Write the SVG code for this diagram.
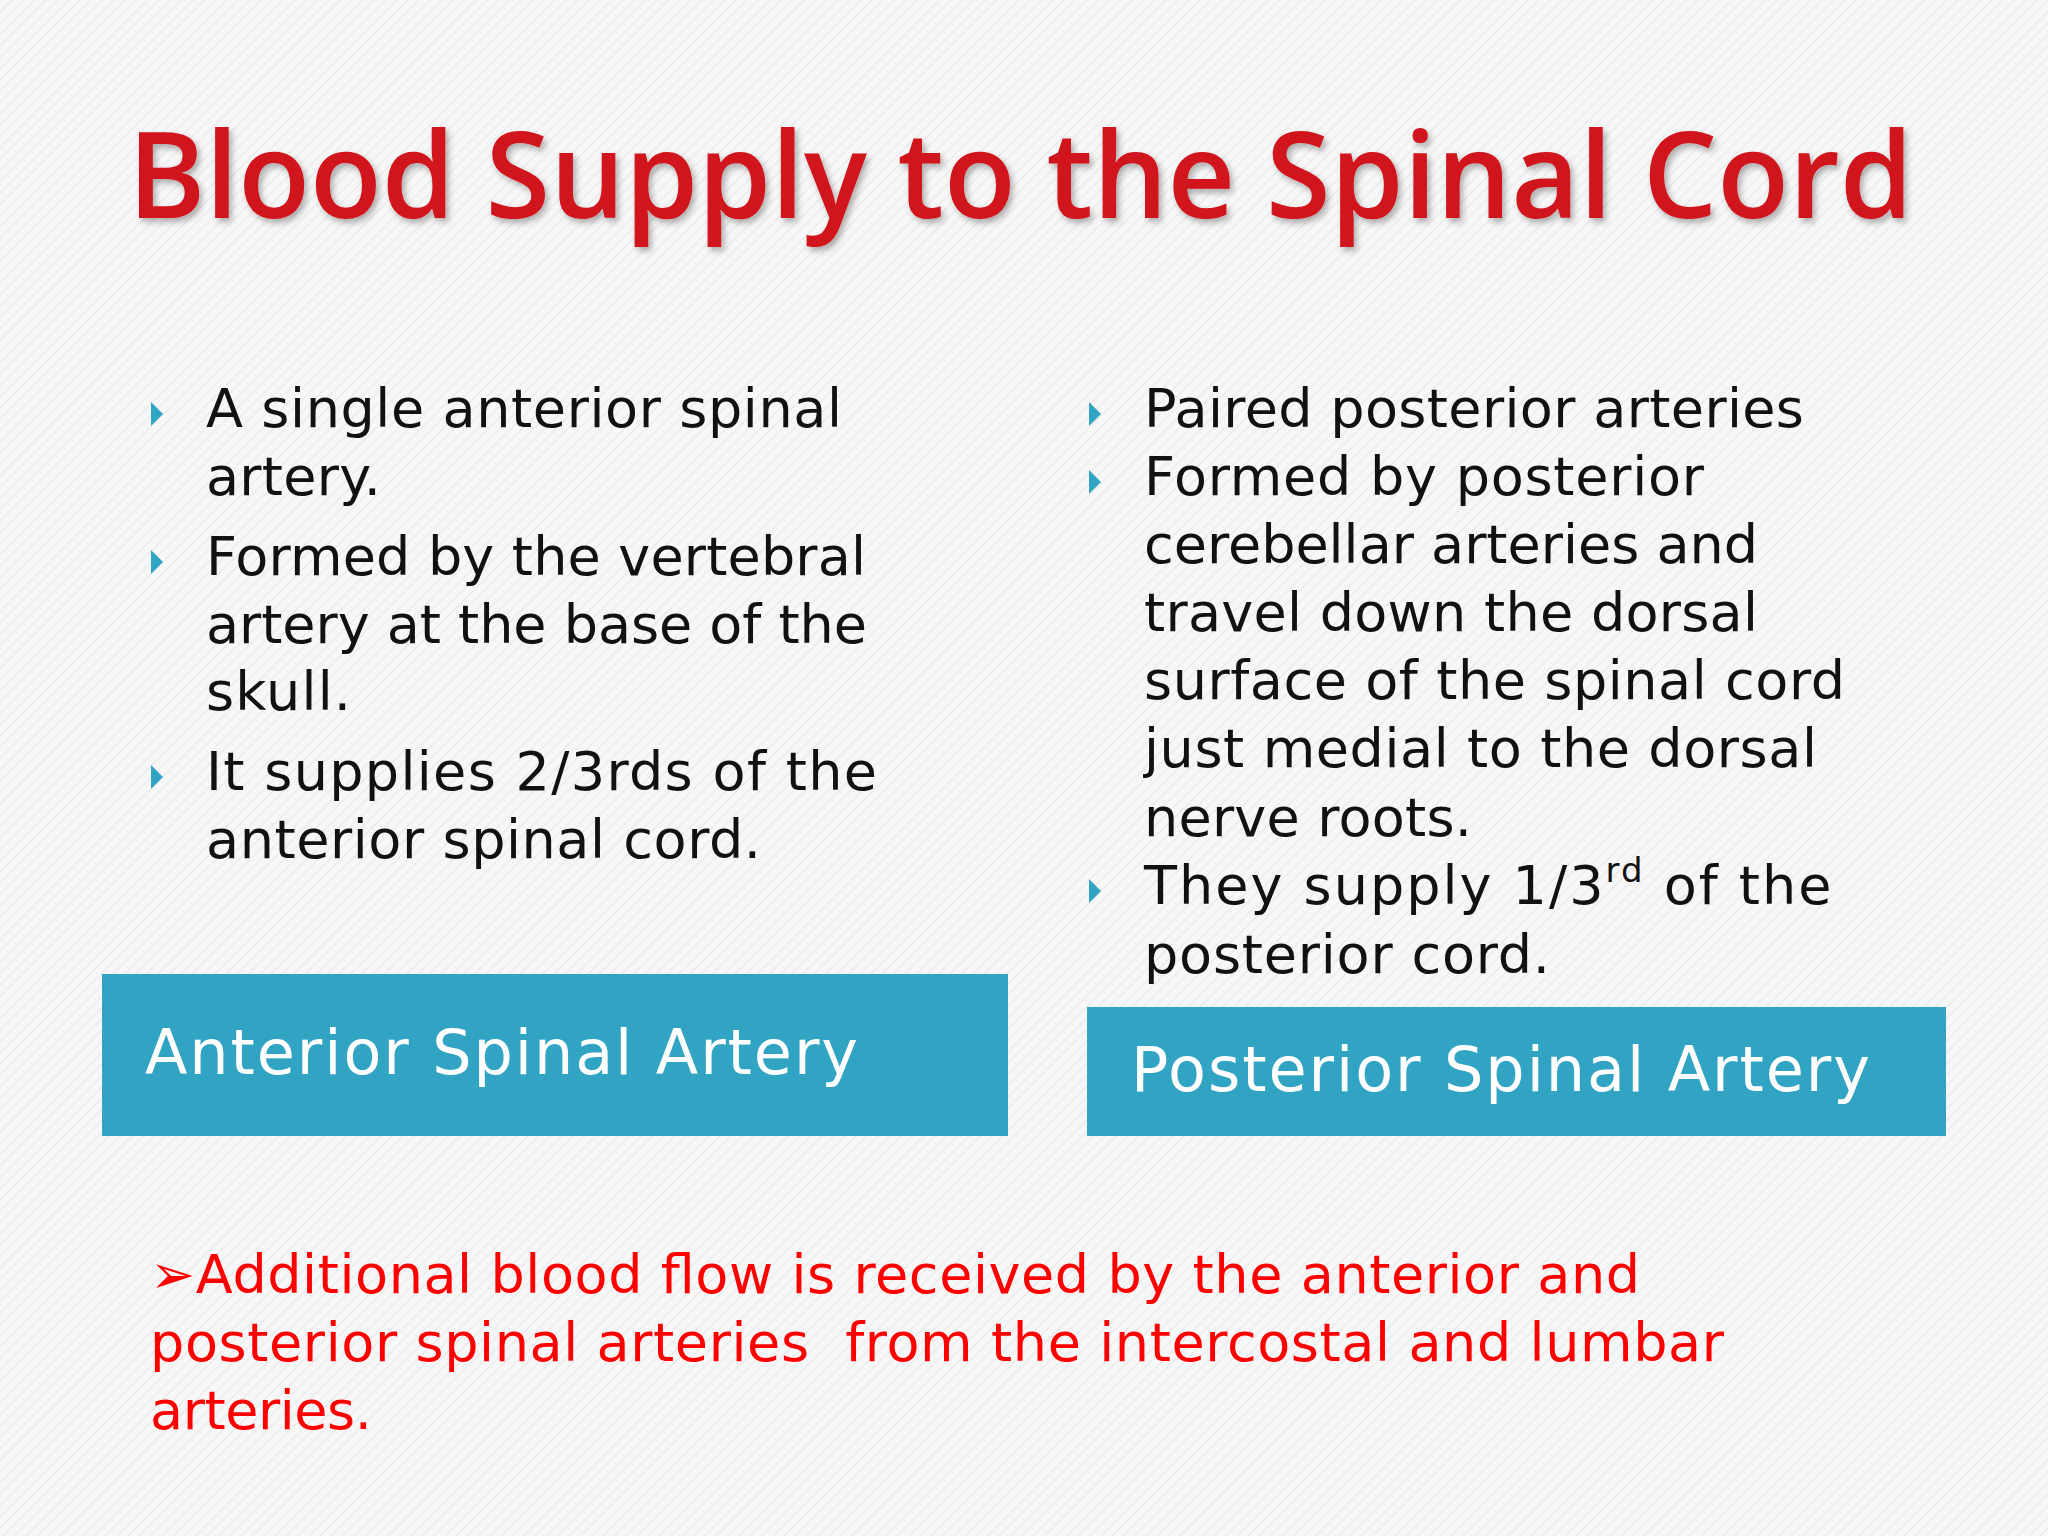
<svg xmlns="http://www.w3.org/2000/svg" width="2048" height="1536" viewBox="0 0 2048 1536">
<defs>
<pattern id="hatch" width="8" height="8" patternUnits="userSpaceOnUse" patternTransform="rotate(45)">
<rect width="8" height="8" fill="#f7f7f7"/>
<line x1="0" y1="0" x2="0" y2="8" stroke="#e6e6e6" stroke-width="2"/>
</pattern>
<filter id="sh" x="-5%" y="-30%" width="110%" height="160%">
<feDropShadow dx="3" dy="4" stdDeviation="3" flood-color="#000" flood-opacity="0.3"/>
</filter>
<polygon id="bul" points="0,-12 12,0 0,12" fill="#31A4C3"/>
</defs>
<style>
.b{font-family:"DejaVu Sans",Verdana,sans-serif;font-size:54px;fill:#111}
.h{font-family:"DejaVu Sans",Verdana,sans-serif;font-size:62px;fill:#fff}
.r{font-family:"DejaVu Sans",Verdana,sans-serif;font-size:54px;fill:#f00}
.t{font-family:"Open Sans","Liberation Sans",sans-serif;font-weight:600;font-size:120px;fill:#D0121A}
</style>
<rect width="2048" height="1536" fill="url(#hatch)"/>
<text class="t" x="128" y="218" textLength="1785" lengthAdjust="spacingAndGlyphs" filter="url(#sh)">Blood Supply to the Spinal Cord</text>
<g id="left-list">
<use href="#bul" x="151" y="414"/><use href="#bul" x="151" y="562"/><use href="#bul" x="151" y="777"/>
<text class="b" x="206" y="427" textLength="636">A single anterior spinal</text>
<text class="b" x="206" y="495" textLength="175">artery.</text>
<text class="b" x="206" y="575" textLength="660">Formed by the vertebral</text>
<text class="b" x="206" y="643" textLength="661">artery at the base of the</text>
<text class="b" x="206" y="710" textLength="145">skull.</text>
<text class="b" x="206" y="790" textLength="671">It supplies 2/3rds of the</text>
<text class="b" x="206" y="858" textLength="555">anterior spinal cord.</text>
</g>
<g id="right-list">
<use href="#bul" x="1089" y="414"/><use href="#bul" x="1089" y="482"/><use href="#bul" x="1089" y="891"/>
<text class="b" x="1144" y="427" textLength="660">Paired posterior arteries</text>
<text class="b" x="1144" y="495" textLength="560">Formed by posterior</text>
<text class="b" x="1144" y="563" textLength="614">cerebellar arteries and</text>
<text class="b" x="1144" y="631" textLength="614">travel down the dorsal</text>
<text class="b" x="1144" y="699" textLength="701">surface of the spinal cord</text>
<text class="b" x="1144" y="767" textLength="673">just medial to the dorsal</text>
<text class="b" x="1144" y="836" textLength="328">nerve roots.</text>
<text class="b" x="1144" y="904" letter-spacing="2">They supply 1/3<tspan font-size="34" dy="-22">rd</tspan><tspan dy="22"> of the</tspan></text>
<text class="b" x="1144" y="973" textLength="406">posterior cord.</text>
</g>
<g id="anterior-box">
<rect x="102" y="974" width="906" height="162" fill="#31A4C3"/>
<text class="h" x="145" y="1074" textLength="713">Anterior Spinal Artery</text>
</g>
<g id="posterior-box">
<rect x="1087" y="1007" width="859" height="129" fill="#31A4C3"/>
<text class="h" x="1131" y="1091" textLength="739">Posterior Spinal Artery</text>
</g>
<g id="note">
<text class="r" x="150" y="1293" textLength="1490">➢Additional blood flow is received by the anterior and</text>
<text class="r" x="150" y="1361" textLength="1574" xml:space="preserve">posterior spinal arteries  from the intercostal and lumbar</text>
<text class="r" x="150" y="1429" textLength="222">arteries.</text>
</g>
<g id="connectors"/>
</svg>
